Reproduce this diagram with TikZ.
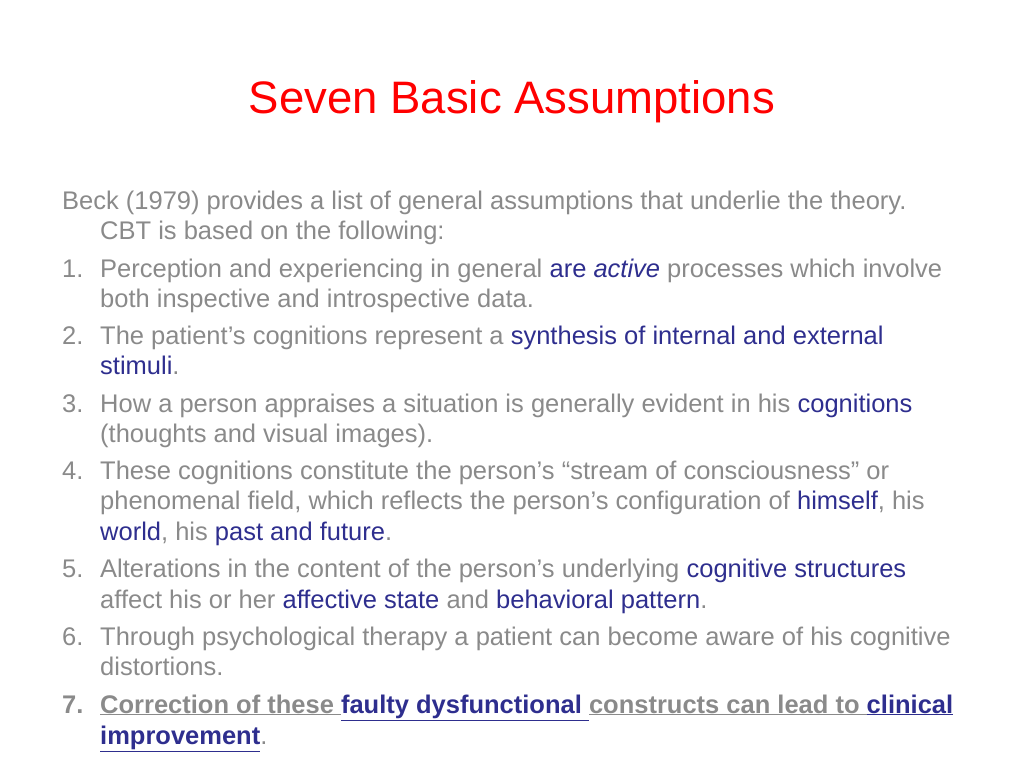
\documentclass[tikz,border=0pt]{standalone}
\usepackage{fontspec}
\setmainfont{Liberation Sans}[Ligatures=ResetAll]
\usetikzlibrary{positioning}
\definecolor{bodygray}{HTML}{8A8A8A}
\definecolor{keyblue}{HTML}{2E2E8E}
\definecolor{titlered}{HTML}{FF0000}
\newcommand{\kw}[1]{\textcolor{keyblue}{#1}}
\newcommand{\ul}[1]{\underline{#1}}

\begin{document}
\begin{tikzpicture}[
    x=1pt, y=-1pt,
    line/.style={anchor=base west, inner sep=0pt, text=bodygray, font=\fontsize{25.5}{30}\selectfont},
    num/.style={line},
    title/.style={anchor=base, inner sep=0pt, text=titlered, font=\fontsize{45.5}{52}\selectfont}
]
\useasboundingbox (0,0) rectangle (1024,768);

% Title
\node[title] (head) at (512,113) {Seven Basic Assumptions};

% Intro
\node[line] (intro1) at (62,209) {Beck (1979) provides a list of general assumptions that underlie the theory.};
\node[line] (intro2) at (100,239) {CBT is based on the following:};

% Numbered points
\node[num] (n1) at (62,277) {1.};
\node[line] (p1a) at (100,277) {Perception and experiencing in general \kw{are \textit{active}} processes which involve};
\node[line] (p1b) at (100,307) {both inspective and introspective data.};

\node[num] (n2) at (62,344) {2.};
\node[line] (p2a) at (100,344) {The patient's cognitions represent a \kw{synthesis of internal and external}};
\node[line] (p2b) at (100,374) {\kw{stimuli}.};

\node[num] (n3) at (62,412) {3.};
\node[line] (p3a) at (100,412) {How a person appraises a situation is generally evident in his \kw{cognitions}};
\node[line] (p3b) at (100,442) {(thoughts and visual images).};

\node[num] (n4) at (62,479) {4.};
\node[line] (p4a) at (100,479) {These cognitions constitute the person's “stream of consciousness” or};
\node[line] (p4b) at (100,509) {phenomenal field, which reflects the person's configuration of \kw{himself}, his};
\node[line] (p4c) at (100,540) {\kw{world}, his \kw{past and future}.};

\node[num] (n5) at (62,577) {5.};
\node[line] (p5a) at (100,577) {Alterations in the content of the person's underlying \kw{cognitive structures}};
\node[line] (p5b) at (100,608) {affect his or her \kw{affective state} and \kw{behavioral pattern}.};

\node[num] (n6) at (62,645) {6.};
\node[line] (p6a) at (100,645) {Through psychological therapy a patient can become aware of his cognitive};
\node[line] (p6b) at (100,675) {distortions.};

\node[num, font=\fontsize{25.5}{30}\selectfont\bfseries] (n7) at (62,713) {7.};
\node[line, font=\fontsize{25.5}{30}\selectfont\bfseries] (p7a) at (100,713) {\ul{Correction of these }\kw{\ul{faulty dysfunctional }}\ul{constructs can lead to }\kw{\ul{clinical}}};
\node[line, font=\fontsize{25.5}{30}\selectfont\bfseries] (p7b) at (100,744) {\kw{\ul{improvement}}\mdseries.};
\end{tikzpicture}
\end{document}
